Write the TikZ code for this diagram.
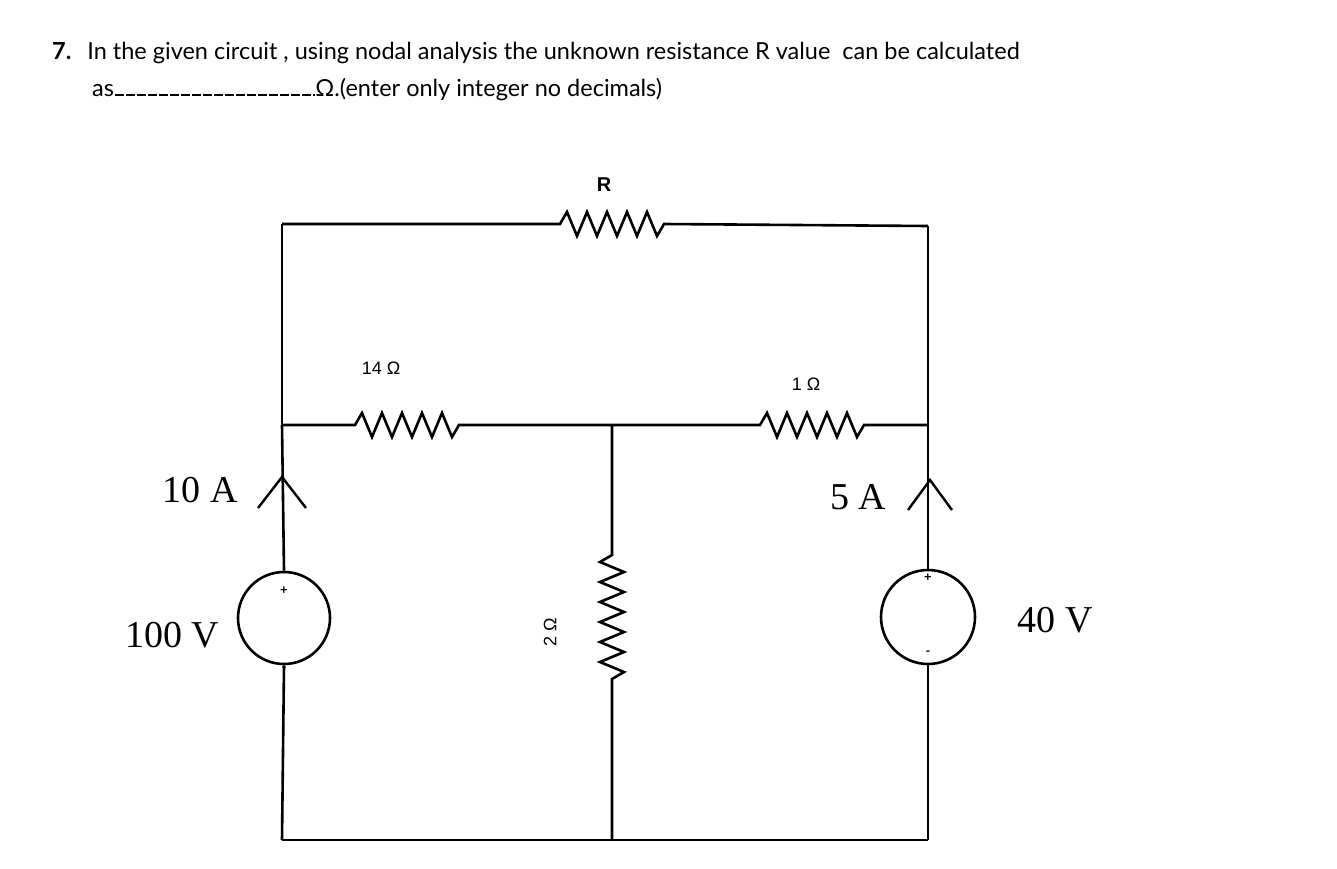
\documentclass[tikz,border=0pt]{standalone}
\usepackage{fontspec}
\setmainfont{Lato}
\newfontfamily\tms{Liberation Serif}
\newfontfamily\ars{Liberation Sans}
\begin{document}
\begin{tikzpicture}[x=1pt,y=-1pt,wire/.style={line width=2.6pt},
 lbl/.style={font=\ars\fontsize{18}{20}\selectfont},
 src/.style={font=\tms\fontsize{38}{40}\selectfont}]
\useasboundingbox (0,0) rectangle (1337,869);
\node[anchor=base west,font=\fontsize{23.5}{26}\selectfont,inner sep=0] (q) at (52,60) {\textbf{7.}\hspace{16pt}In the given circuit , using nodal analysis the unknown resistance R value\ \ can be calculated};
\node[anchor=base west,font=\fontsize{23.5}{26}\selectfont,inner sep=0] (q2) at (92,97) {as\tikz[baseline]\draw[line width=1.4pt,dash pattern=on 9pt off 2pt] (0,2pt)--(200pt,2pt);Ω.(enter only integer no decimals)};
% nodes
\coordinate (TL) at (282,224); \coordinate (TR) at (928,226);
\coordinate (ML) at (282,425); \coordinate (MM) at (612,425); \coordinate (MR) at (928,425);
\coordinate (BL) at (282,840); \coordinate (BM) at (612,840); \coordinate (BR) at (928,840);
\draw[wire] (TL) -- (530,224) -- (560,224) -- ++(7,-12) -- ++(10,24)--++(10,-24)--++(10,24)--++(10,-24)--++(10,24)--++(10,-24)--++(10,24)--++(10,-24)--++(10,24)--++(7,-12) -- (TR);
\node[font=\ars\bfseries\fontsize{20}{22}\selectfont] (R) at (604,185) {R};
\draw[wire] (ML) -- (355,425) -- ++(7,-12)--++(10,24)--++(10,-24)--++(10,24)--++(10,-24)--++(10,24)--++(10,-24)--++(10,24)--++(10,-24)--++(10,24)--++(7,-12) -- (MM) -- (760,425) -- ++(7,-12)--++(10,24)--++(10,-24)--++(10,24)--++(10,-24)--++(10,24)--++(10,-24)--++(10,24)--++(10,-24)--++(10,24)--++(7,-12) -- (MR);
\node[lbl] (r14) at (381,368) {14 Ω};
\node[lbl] (r1) at (806,384) {1 Ω};
\draw[wire] (MM) -- (612,555) -- ++(-12,7)--++(24,10)--++(-24,10)--++(24,10)--++(-24,10)--++(24,10)--++(-24,10)--++(24,10)--++(-24,10)--++(24,10)--++(-24,10)--++(24,10)--++(-12,7) -- (BM);
\node[lbl,rotate=90] (r2) at (550,632) {2 Ω};
\draw[wire] (BL) -- (BR);
\draw[wire] (TL) -- (ML);
\draw[wire] (TR) -- (MR);
% left source
\node[circle,draw,line width=2.6pt,minimum size=92pt,inner sep=0] (S1) at (284,618) {};
\draw[wire] (ML) -- (S1.north); \draw[wire] (S1.south) -- (BL);
\draw[line width=2.4pt] (258,508) -- (282,477) -- (306,508);
\node[font=\bfseries\fontsize{13}{13}\selectfont] at (284,591) {+};
\node[font=\bfseries\fontsize{13}{13}\selectfont] at (284,669) {-};
\node[src] (a1) at (200,490) {10 A};
\node[src] (v1) at (172,635) {100 V};
% right source
\node[circle,draw,line width=2.6pt,minimum size=94pt,inner sep=0] (S2) at (928,617) {};
\draw[wire] (MR) -- (S2.north); \draw[wire] (S2.south) -- (BR);
\draw[line width=2.4pt] (908,510) -- (930,480) -- (952,510);
\node[font=\bfseries\fontsize{13}{13}\selectfont] at (928,578) {+};
\node[font=\bfseries\fontsize{13}{13}\selectfont] at (928,653) {-};
\node[src] (a2) at (858,497) {5 A};
\node[src] (v2) at (1055,620) {40 V};
\end{tikzpicture}
\end{document}
